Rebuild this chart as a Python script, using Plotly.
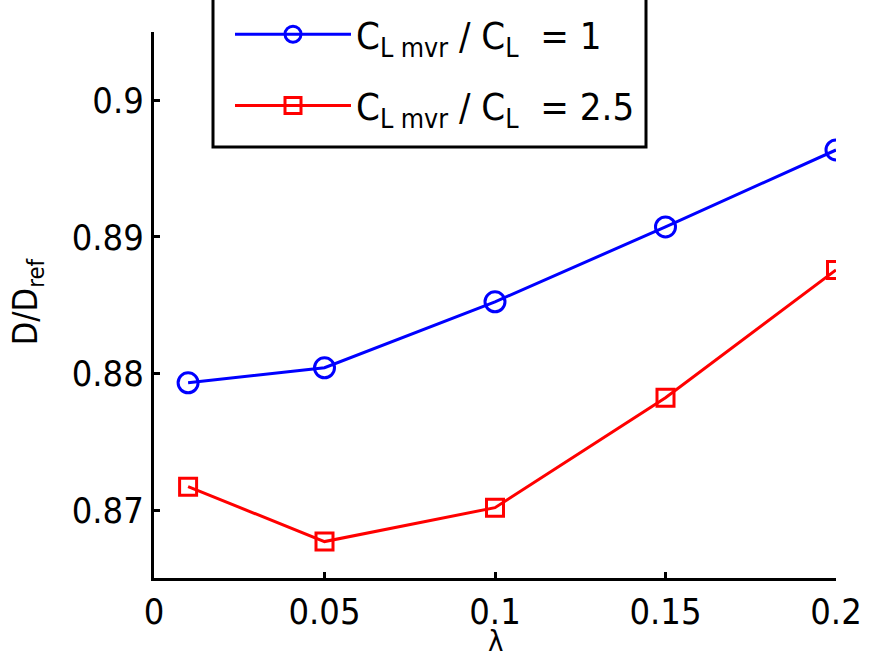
import plotly.graph_objects as go

lam = [0.01, 0.05, 0.1, 0.15, 0.2]
ratio_1 = [0.87934, 0.88044, 0.88526, 0.89073, 0.89635]
ratio_25 = [0.87175, 0.86774, 0.87022, 0.87825, 0.88759]
names = ["C<sub>L mvr</sub> / C<sub>L</sub>  = 1", "C<sub>L mvr</sub> / C<sub>L</sub>  = 2.5"]
xticks = [0, 0.05, 0.1, 0.15, 0.2]
xticklabels = ["0", "0.05", "0.1", "0.15", "0.2"]
yticks = [0.87, 0.88, 0.89, 0.9]
yticklabels = ["0.87", "0.88", "0.89", "0.9"]
xtitle = "λ"
ytitle = "D/D<sub>ref</sub>"

FONT = "DejaVu Sans Condensed, DejaVu Sans"

fig = go.Figure()
fig.add_trace(go.Scatter(
    x=lam, y=ratio_1, name=names[0], mode="lines+markers", legendgroup="a",
    line=dict(color="#0000ff", width=3),
    marker=dict(symbol="circle-open", size=20, color="#0000ff", line=dict(width=3)),
))
fig.add_trace(go.Scatter(
    x=lam, y=ratio_25, name=names[1], mode="lines+markers", legendgroup="b",
    line=dict(color="#ff0000", width=3),
    marker=dict(symbol="square-open", size=17, color="#ff0000", line=dict(width=3)),
))

# legend frame (extends above the top of the page, as in the reference)
fig.add_shape(type="rect", xref="paper", yref="paper",
              x0=(213 - 154) / 682, x1=(646 - 154) / 682,
              y0=(578 - 147) / 546, y1=1.2,
              line=dict(color="black", width=3), fillcolor="white", layer="below")

fig.add_annotation(text=xtitle, xref="paper", yref="paper", x=0.5, y=(578 - 641) / 546,
                   xanchor="center", yanchor="middle", showarrow=False, borderpad=0,
                   font=dict(family=FONT, size=29, color="black"))
fig.add_annotation(text=ytitle, xref="paper", yref="paper", x=(27 - 154) / 682, y=0.505,
                   xanchor="center", yanchor="middle", showarrow=False, textangle=-90,
                   font=dict(family=FONT, size=34, color="black"))

fig.update_layout(
    width=883, height=658,
    margin=dict(l=154, r=47, t=32, b=80, autoexpand=False),
    plot_bgcolor="white", paper_bgcolor="white",
    font=dict(family=FONT, size=36, color="black"),
    showlegend=True,
    legend=dict(
        x=(230 - 154) / 682, xanchor="left", y=(578 - 70) / 546, yanchor="middle",
        borderwidth=0, bgcolor="rgba(0,0,0,0)",
        font=dict(family=FONT, size=38), itemwidth=116,
        tracegroupgap=19,
    ),
    xaxis=dict(
        range=[0, 0.2], tickvals=xticks, ticktext=xticklabels,
        showline=True, linecolor="black", linewidth=3, mirror=False,
        ticks="inside", ticklen=6, tickwidth=3, tickcolor="black",
        showgrid=False, zeroline=False,
    ),
    yaxis=dict(
        range=[0.86508, 0.90497], tickvals=yticks, ticktext=yticklabels,
        showline=True, linecolor="black", linewidth=3, mirror=False,
        ticks="inside", ticklen=6, tickwidth=3, tickcolor="black",
        showgrid=False, zeroline=False,
    ),
)

fig.write_html("out.html")
